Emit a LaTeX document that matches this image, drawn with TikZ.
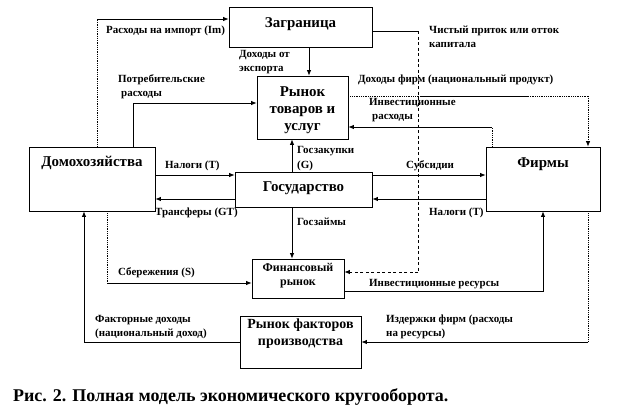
\documentclass[tikz,border=0pt]{standalone}
\usepackage{fontspec}
\setmainfont{Liberation Serif}
\usetikzlibrary{arrows.meta}
\begin{document}
\begin{tikzpicture}[x=1bp,y=-1bp,
 box/.style={draw, line width=0.8bp, rectangle, inner sep=0pt},
 btxt/.style={font=\fontsize{15}{17}\selectfont\bfseries, align=center, inner sep=0pt},
 lbl/.style={font=\fontsize{11}{14}\selectfont\bfseries, align=left, inner sep=0pt, anchor=base west},
 flow/.style={-{Latex[length=5.5bp,width=4.5bp]}, line width=0.8bp},
 ln/.style={line width=0.8bp},
 dotl/.style={line width=0.8bp, densely dotted},
 dashl/.style={line width=0.8bp, dash pattern=on 3bp off 2.5bp}
]
\useasboundingbox (0,0) rectangle (627,418);
\fill[white] (0,0) rectangle (627,418);

% boxes
\node[box, minimum width=143bp, minimum height=40bp] (zag) at (300.5,27) {};
\node[box, minimum width=91bp, minimum height=63bp] (ryn) at (302.5,107.5) {};
\node[box, minimum width=126bp, minimum height=64bp] (dom) at (92,179) {};
\node[box, minimum width=137bp, minimum height=35bp] (gos) at (303.5,189.5) {};
\node[box, minimum width=114bp, minimum height=64bp] (firm) at (543,179) {};
\node[box, minimum width=92bp, minimum height=39bp] (fin) at (298,278.5) {};
\node[box, minimum width=121bp, minimum height=52bp] (rf) at (300.5,342) {};

% box texts
\node[btxt] (zag-t) at (300.5,24) {Заграница};
\node[btxt] (ryn-t) at (302.5,110.5) {Рынок\\товаров и\\услуг};
\node[btxt] (dom-t) at (92,163) {Домохозяйства};
\node[btxt] (gos-t) at (303.5,188.5) {Государство};
\node[btxt] (firm-t) at (543,164) {Фирмы};
\node[btxt, font=\fontsize{12}{14}\selectfont\bfseries] (fin-t) at (298,276) {Финансовый\\рынок};
\node[btxt, font=\fontsize{14}{17}\selectfont\bfseries] (rf-t) at (300.5,334) {Рынок факторов\\производства};

% helper coordinates
\coordinate (c-im) at (97,19);
\coordinate (c-cons) at (133,103);
\coordinate (c-exp) at (309,60);
\coordinate (c-g) at (292,150);
\coordinate (c-t1) at (200,175);
\coordinate (c-t2) at (200,199);
\coordinate (c-sav) at (107,283);
\coordinate (c-fi) at (84,342);
\coordinate (c-cost) at (588,342);
\coordinate (c-ir) at (543,291);
\coordinate (c-cap) at (418,31);
\coordinate (c-cap2) at (418,272);
\coordinate (c-inc) at (588,96);
\coordinate (c-inc1) at (420,96);
\coordinate (c-inc2) at (528,96);
\coordinate (c-ie) at (492,127);

% connectors
\draw[dotl] (dom.north -| c-im) -- (c-im);
\draw[flow] (c-im) -- (c-im -| zag.west);
\draw[flow] (dom.north -| c-cons) -- (c-cons) -- (c-cons -| ryn.west);
\draw[flow] (zag.south -| c-exp) -- (ryn.north -| c-exp);
\draw[flow] (gos.north -| c-g) -- (ryn.south -| c-g);
\draw[flow] (dom.east |- c-t1) -- (gos.west |- c-t1);
\draw[flow] (gos.west |- c-t2) -- (dom.east |- c-t2);
\draw[flow] (gos.east |- c-t1) -- (firm.west |- c-t1);
\draw[flow] (firm.west |- c-t2) -- (gos.east |- c-t2);
\draw[flow] (gos.south -| c-g) -- (fin.north -| c-g);
\draw[dotl] (dom.south -| c-sav) -- (c-sav);
\draw[flow] (c-sav) -- (c-sav -| fin.west);
\draw[flow] (rf.west |- c-fi) -- (c-fi) -- (dom.south -| c-fi);
\draw[dotl] (firm.south -| c-cost) -- (c-cost);
\draw[flow] (c-cost) -- (c-cost -| rf.east);
\draw[flow] (fin.east |- c-ir) -- (c-ir) -- (firm.south -| c-ir);
\draw[ln] (zag.east |- c-cap) -- (c-cap);
\draw[dashl] (c-cap) -- (c-cap2);
\draw[dashl, -{Latex[length=5.5bp,width=4.5bp]}] (c-cap2) -- (c-cap2 -| fin.east);
\draw[dotl] (ryn.east |- c-inc) -- (c-inc1);
\draw[ln] (c-inc1) -- (c-inc2);
\draw[dotl] (c-inc2) -- (c-inc);
\draw[dotl, -{Latex[length=5.5bp,width=4.5bp]}] (c-inc) -- (firm.north -| c-inc);
\draw[dotl] (firm.north -| c-ie) -- (c-ie);
\draw[flow] (c-ie) -- (c-ie -| ryn.east);

% labels
\node[lbl] (l-im) at (106,33) {Расходы на импорт (Im)};
\node[lbl] (l-exp) at (239,57) {Доходы от};
\node[lbl] (l-exp2) at (239,71) {экспорта};
\node[lbl] (l-cons) at (118,82) {Потребительские};
\node[lbl] (l-cons2) at (121,96) {расходы};
\node[lbl] (l-cap) at (429,33) {Чистый приток или отток};
\node[lbl] (l-cap2) at (429,47) {капитала};
\node[lbl] (l-inc) at (358,82) {Доходы фирм (национальный продукт)};
\node[lbl] (l-ie) at (369,105) {Инвестиционные};
\node[lbl] (l-ie2) at (372,119) {расходы};
\node[lbl] (l-g) at (297,153) {Госзакупки};
\node[lbl] (l-g2) at (297,168) {(G)};
\node[lbl] (l-t1) at (165,168) {Налоги (T)};
\node[lbl] (l-gt) at (155,215) {Трансферы (GT)};
\node[lbl] (l-sub) at (406,168) {Субсидии};
\node[lbl] (l-t2) at (429,215) {Налоги (T)};
\node[lbl] (l-loan) at (297,225) {Госзаймы};
\node[lbl] (l-sav) at (118,275) {Сбережения (S)};
\node[lbl] (l-ir) at (369,286) {Инвестиционные ресурсы};
\node[lbl] (l-fi) at (95,322) {Факторные доходы};
\node[lbl] (l-fi2) at (95,336) {(национальный доход)};
\node[lbl] (l-cost) at (386,322) {Издержки фирм (расходы};
\node[lbl] (l-cost2) at (386,336) {на ресурсы)};

% caption
\node[font=\fontsize{18}{20}\selectfont\bfseries, anchor=base west, inner sep=0pt] (cap) at (13,401) {Рис. 2. Полная модель экономического кругооборота.};
\end{tikzpicture}
\end{document}
